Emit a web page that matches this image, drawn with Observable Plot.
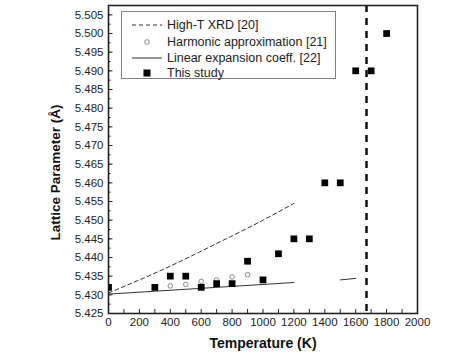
<!DOCTYPE html>
<html>
<head>
<meta charset="utf-8">
<script src="https://cdn.jsdelivr.net/npm/d3@7"></script>
<script src="https://cdn.jsdelivr.net/npm/@observablehq/plot@0.6"></script>
<style>
  html, body { margin: 0; padding: 0; background: #fff; }
  #wrap { position: relative; width: 474px; height: 362px; font-family: "Liberation Sans", Arial, sans-serif; }
  #legend { position: absolute; left: 121px; top: 11px; width: 215px; height: 68px; border: 1px solid #808080; background: #fff; box-sizing: border-box; }
  .row { position: absolute; left: 0; height: 16px; display: flex; align-items: center; font-size: 12.5px; color: #222; }
  .row svg { width: 30px; height: 16px; margin-left: 10px; margin-right: 5px; }
</style>
</head>
<body>
<div id="wrap"></div>
<script>
// This study
const studyT = [0, 300, 400, 500, 600, 700, 800, 900, 1000, 1100, 1200, 1300, 1400, 1500, 1600, 1700, 1800];
const studyA = [5.432, 5.432, 5.435, 5.435, 5.432, 5.433, 5.433, 5.439, 5.434, 5.441, 5.445, 5.445, 5.460, 5.460, 5.490, 5.490, 5.500];
// Harmonic approximation [21]
const harmT = [400, 500, 600, 700, 800, 900];
const harmA = [5.4324, 5.4328, 5.4336, 5.4340, 5.4348, 5.4354];
// High-T XRD [20]
const xrdT = [0, 200, 400, 600, 800, 1000, 1200];
const xrdA = [5.4305, 5.4340, 5.4377, 5.4417, 5.4458, 5.4500, 5.4545];
// Linear expansion coeff. [22]
const linT = [0, 1200];
const linA = [5.4302, 5.4333];
const lin2T = [1500, 1600];
const lin2A = [5.4340, 5.4344];
// Melting point marker
const meltT = [1670];
// Ticks
const xTicks = d3.range(0, 2001, 200);
const xMinor = d3.range(0, 2001, 100);
const yTicks = d3.range(0, 17).map(i => +(5.425 + i * 0.005).toFixed(3));
const yMinor = d3.range(0, 33).map(i => +(5.425 + i * 0.0025).toFixed(4));
const legendLabels = ["High-T XRD [20]", "Harmonic approximation [21]", "Linear expansion coeff. [22]", "This study"];

const study = studyT.map((t, i) => ({t, a: studyA[i]}));
const harm = harmT.map((t, i) => ({t, a: harmA[i]}));
const xrd = xrdT.map((t, i) => ({t, a: xrdA[i]}));
const lin = linT.map((t, i) => ({t, a: linA[i]}));
const lin2 = lin2T.map((t, i) => ({t, a: lin2A[i]}));

const mL = 108, mR = 57, mT = 5, mB = 49, W = 474, H = 362;
const pw = W - mL - mR, ph = H - mT - mB;

const chart = Plot.plot({
  width: W, height: H,
  marginLeft: mL, marginRight: mR, marginTop: mT, marginBottom: mB,
  style: {fontFamily: '"Liberation Sans", Arial, sans-serif', color: "#222", background: "#fff"},
  x: {domain: [0, 2000], label: null},
  y: {domain: [5.425, 5.5075], label: null},
  marks: [
    Plot.axisX(xTicks, {tickSize: 0, tickPadding: 4, fontSize: 11.5, label: null, tickFormat: d => String(d)}),
    Plot.axisY(yTicks, {tickSize: 0, tickPadding: 5, fontSize: 11.5, label: null, tickFormat: d3.format(".3f")}),
    Plot.tickX(xMinor, {x: d => d, insetTop: ph - 4, stroke: "#222"}),
    Plot.tickY(yMinor, {y: d => d, insetRight: pw - 2.5, stroke: "#222"}),
    Plot.tickY(yTicks, {y: d => d, insetRight: pw - 4.5, stroke: "#222"}),
    Plot.line(xrd, {x: "t", y: "a", stroke: "#333", strokeWidth: 1, strokeDasharray: "4,3", curve: "natural"}),
    Plot.line(lin, {x: "t", y: "a", stroke: "#333", strokeWidth: 1}),
    Plot.line(lin2, {x: "t", y: "a", stroke: "#333", strokeWidth: 1}),
    Plot.dot(harm, {x: "t", y: "a", r: 2.3, stroke: "#888", strokeWidth: 1, fill: "none"}),
    Plot.dot(study, {x: "t", y: "a", symbol: "square", r: 3.8, fill: "#000", stroke: "none", clip: true}),
    Plot.ruleX(meltT, {x: d => d, stroke: "#111", strokeWidth: 2.5, strokeDasharray: "7,6"}),
    Plot.frame({stroke: "#222", strokeWidth: 1.6}),
    Plot.text(["Temperature (K)"], {frameAnchor: "bottom", dy: 30, textAnchor: "middle", lineAnchor: "middle", fontSize: 14, fontWeight: "bold", fill: "#111"}),
    Plot.text(["Lattice Parameter (Å)"], {frameAnchor: "left", dx: -53, dy: 13, rotate: -90, textAnchor: "middle", lineAnchor: "middle", fontSize: 13.5, fontWeight: "bold", fill: "#111"})
  ]
});

const wrap = document.getElementById("wrap");
wrap.appendChild(chart);

// Legend
const legend = document.createElement("div");
legend.id = "legend";
const syms = [
  '<line x1="0" x2="30" y1="8" y2="8" stroke="#333" stroke-width="1" stroke-dasharray="4,3"/>',
  '<circle cx="15" cy="8" r="2.3" fill="none" stroke="#888" stroke-width="1"/>',
  '<line x1="0" x2="30" y1="8" y2="8" stroke="#333" stroke-width="1"/>',
  '<rect x="11.5" y="4.5" width="7" height="7" fill="#000"/>'
];
const rowTops = [5, 22, 37.5, 52.5];
legendLabels.forEach((lab, i) => {
  const r = document.createElement("div");
  r.className = "row";
  r.style.top = rowTops[i] + "px";
  r.innerHTML = '<svg viewBox="0 0 30 16">' + syms[i] + '</svg><span>' + lab + '</span>';
  legend.appendChild(r);
});
wrap.appendChild(legend);
</script>
</body>
</html>
